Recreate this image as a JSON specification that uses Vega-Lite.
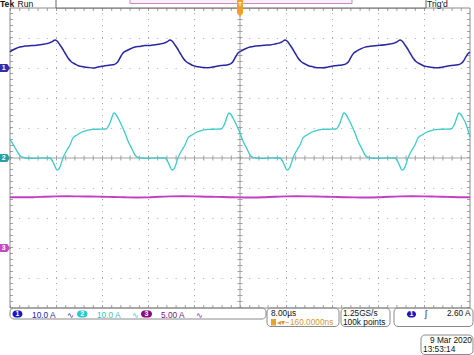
{
  "$schema": "https://vega.github.io/schema/vega-lite/v6.json",
  "width": 460,
  "height": 300,
  "autosize": {"type": "none"},
  "padding": {"left": 10, "top": 8, "right": 4, "bottom": 47},
  "background": "white",
  "config": {"view": {"stroke": null}, "text": {"font": "Liberation Sans"}},
  "resolve": {"scale": {"y": "independent", "color": "independent"}},
  "layer": [
    {
      "data": {"values": [{"t": -32}, {"t": -24}, {"t": -16}, {"t": -8}, {"t": 8}, {"t": 16}, {"t": 24}, {"t": 32}]},
      "mark": {"type": "rule", "color": "#a8a8a8", "strokeWidth": 1, "strokeDash": [1, 5], "xOffset": 0.5},
      "encoding": {
        "x": {"field": "t", "type": "quantitative", "scale": {"domain": [-40, 40], "nice": false, "zero": false}, "axis": null},
        "y": {"datum": -5, "type": "quantitative", "scale": {"domain": [-5, 5], "nice": false, "zero": false}, "axis": null},
        "y2": {"datum": 5}
      }
    },
    {
      "data": {"values": [{"v": -4}, {"v": -3}, {"v": -2}, {"v": -1}, {"v": 1}, {"v": 2}, {"v": 3}, {"v": 4}]},
      "mark": {"type": "rule", "color": "#a8a8a8", "strokeWidth": 1, "strokeDash": [1, 8.2], "yOffset": 0.5},
      "encoding": {
        "x": {"datum": -40, "type": "quantitative", "scale": {"domain": [-40, 40], "nice": false, "zero": false}, "axis": null},
        "x2": {"datum": 40},
        "y": {"field": "v", "type": "quantitative", "scale": {"domain": [-5, 5], "nice": false, "zero": false}, "axis": null}
      }
    },
    {
      "data": {"values": [{"t": -40, "t2": 40, "v": 0, "v2": 0}, {"t": 0, "t2": 0, "v": -5, "v2": 5}]},
      "mark": {"type": "rule", "color": "#a0a0a0", "strokeWidth": 1},
      "encoding": {
        "x": {"field": "t", "type": "quantitative", "scale": {"domain": [-40, 40], "nice": false, "zero": false}, "axis": null},
        "x2": {"field": "t2"},
        "y": {"field": "v", "type": "quantitative", "scale": {"domain": [-5, 5], "nice": false, "zero": false}, "axis": null},
        "y2": {"field": "v2"}
      }
    },
    {
      "data": {"values": [{"v": 0}]},
      "mark": {"type": "rule", "color": "#a0a0a0", "strokeWidth": 5, "strokeDash": [1, 8.2]},
      "encoding": {
        "x": {"datum": -40, "type": "quantitative", "scale": {"domain": [-40, 40], "nice": false, "zero": false}, "axis": null},
        "x2": {"datum": 40},
        "y": {"field": "v", "type": "quantitative", "scale": {"domain": [-5, 5], "nice": false, "zero": false}, "axis": null}
      }
    },
    {
      "data": {"values": [{"t": 0}]},
      "mark": {"type": "rule", "color": "#a0a0a0", "strokeWidth": 5, "strokeDash": [1, 5]},
      "encoding": {
        "x": {"field": "t", "type": "quantitative", "scale": {"domain": [-40, 40], "nice": false, "zero": false}, "axis": null},
        "y": {"datum": -5, "type": "quantitative", "scale": {"domain": [-5, 5], "nice": false, "zero": false}, "axis": null},
        "y2": {"datum": 5}
      }
    },
    {
      "data": {"values": [{"v": 4.95}, {"v": -4.95}]},
      "mark": {"type": "rule", "color": "#a0a0a0", "strokeWidth": 3, "strokeDash": [1, 8.2]},
      "encoding": {
        "x": {"datum": -40, "type": "quantitative", "scale": {"domain": [-40, 40], "nice": false, "zero": false}, "axis": null},
        "x2": {"datum": 40},
        "y": {"field": "v", "type": "quantitative", "scale": {"domain": [-5, 5], "nice": false, "zero": false}, "axis": null}
      }
    },
    {
      "data": {"values": [{"t": -39.74}, {"t": 39.74}]},
      "mark": {"type": "rule", "color": "#a0a0a0", "strokeWidth": 3, "strokeDash": [1, 5]},
      "encoding": {
        "x": {"field": "t", "type": "quantitative", "scale": {"domain": [-40, 40], "nice": false, "zero": false}, "axis": null},
        "y": {"datum": -5, "type": "quantitative", "scale": {"domain": [-5, 5], "nice": false, "zero": false}, "axis": null},
        "y2": {"datum": 5}
      }
    },
    {
      "data": {"values": [{"t": -40, "t2": 40, "v": -5, "v2": 5}]},
      "mark": {"type": "rect", "fillOpacity": 0, "stroke": "#8a8a8a", "strokeWidth": 1},
      "encoding": {
        "x": {"field": "t", "type": "quantitative", "scale": {"domain": [-40, 40], "nice": false, "zero": false}, "axis": null},
        "x2": {"field": "t2"},
        "y": {"field": "v", "type": "quantitative", "scale": {"domain": [-5, 5], "nice": false, "zero": false}, "axis": null},
        "y2": {"field": "v2"}
      }
    },
    {
      "data": {"values": [
        {"t": -40, "a": 8.45}, {"t": -38, "a": 8.45}, {"t": -36, "a": 8.47}, {"t": -34, "a": 8.55}, {"t": -32, "a": 8.6},
        {"t": -30, "a": 8.62}, {"t": -28, "a": 8.6}, {"t": -26, "a": 8.58}, {"t": -24, "a": 8.55}, {"t": -22, "a": 8.5},
        {"t": -20, "a": 8.45}, {"t": -18, "a": 8.42}, {"t": -16, "a": 8.44}, {"t": -14, "a": 8.55}, {"t": -12, "a": 8.6},
        {"t": -10, "a": 8.62}, {"t": -8, "a": 8.6}, {"t": -6, "a": 8.55}, {"t": -4, "a": 8.52}, {"t": -2, "a": 8.47},
        {"t": 0, "a": 8.43}, {"t": 2, "a": 8.42}, {"t": 4, "a": 8.45}, {"t": 6, "a": 8.55}, {"t": 8, "a": 8.6},
        {"t": 10, "a": 8.62}, {"t": 12, "a": 8.6}, {"t": 14, "a": 8.57}, {"t": 16, "a": 8.52}, {"t": 18, "a": 8.47},
        {"t": 20, "a": 8.43}, {"t": 22, "a": 8.42}, {"t": 24, "a": 8.45}, {"t": 26, "a": 8.55}, {"t": 28, "a": 8.6},
        {"t": 30, "a": 8.62}, {"t": 32, "a": 8.6}, {"t": 34, "a": 8.57}, {"t": 36, "a": 8.52}, {"t": 38, "a": 8.47},
        {"t": 40, "a": 8.45}
      ]},
      "mark": {"type": "line", "color": "#c23ec2", "strokeWidth": 1.9, "interpolate": "monotone"},
      "encoding": {
        "x": {"field": "t", "type": "quantitative", "scale": {"domain": [-40, 40], "nice": false, "zero": false}, "axis": null},
        "y": {"field": "a", "type": "quantitative", "scale": {"domain": [-10, 40], "nice": false, "zero": false}, "axis": null}
      }
    },
    {
      "data": {"values": [
        {"t": -40, "a": 6.2}, {"t": -39.48, "a": 4.6}, {"t": -38.79, "a": 2.3}, {"t": -38.26, "a": 0.8}, {"t": -37.74, "a": 0.17},
        {"t": -37.22, "a": 0}, {"t": -35.9, "a": -0.1}, {"t": -34.3, "a": 0.05},
        {"t": -33.05, "a": 0}, {"t": -32.53, "a": -1.33}, {"t": -32.18, "a": -2.8}, {"t": -31.83, "a": -4.0}, {"t": -31.57, "a": -3.8},
        {"t": -31.31, "a": -3.0}, {"t": -30.79, "a": 0}, {"t": -30.09, "a": 2.67}, {"t": -29.57, "a": 4.33}, {"t": -29.05, "a": 6.67},
        {"t": -28.35, "a": 7.67}, {"t": -27.48, "a": 8.67}, {"t": -26.44, "a": 9.33}, {"t": -25.57, "a": 9.57}, {"t": -24.18, "a": 9.6},
        {"t": -23.31, "a": 9.67}, {"t": -22.96, "a": 10.33}, {"t": -22.61, "a": 11.67}, {"t": -22.26, "a": 13.67}, {"t": -21.92, "a": 15.0},
        {"t": -21.57, "a": 14.5}, {"t": -21.22, "a": 13.33}, {"t": -20.7, "a": 11.33}, {"t": -20.0, "a": 8.33}, {"t": -19.48, "a": 5.67},
        {"t": -18.79, "a": 3.0}, {"t": -18.26, "a": 1.0}, {"t": -17.74, "a": 0.17}, {"t": -17.22, "a": 0}, {"t": -16.18, "a": -0.1},
        {"t": -14.44, "a": 0.07},
        {"t": -13.05, "a": 0}, {"t": -12.53, "a": -1.33}, {"t": -12.18, "a": -2.8}, {"t": -11.83, "a": -4.0}, {"t": -11.57, "a": -3.8},
        {"t": -11.31, "a": -3.0}, {"t": -10.79, "a": 0}, {"t": -10.09, "a": 2.67}, {"t": -9.57, "a": 4.33}, {"t": -9.05, "a": 6.67},
        {"t": -8.35, "a": 7.67}, {"t": -7.48, "a": 8.67}, {"t": -6.44, "a": 9.33}, {"t": -5.57, "a": 9.57}, {"t": -4.18, "a": 9.6},
        {"t": -3.31, "a": 9.67}, {"t": -2.96, "a": 10.33}, {"t": -2.61, "a": 11.67}, {"t": -2.26, "a": 13.67}, {"t": -1.92, "a": 15.0},
        {"t": -1.57, "a": 14.5}, {"t": -1.22, "a": 13.33}, {"t": -0.7, "a": 11.33}, {"t": 0.0, "a": 8.33}, {"t": 0.52, "a": 5.67},
        {"t": 1.21, "a": 3.0}, {"t": 1.74, "a": 1.0}, {"t": 2.26, "a": 0.17}, {"t": 2.78, "a": 0}, {"t": 3.82, "a": -0.1},
        {"t": 5.56, "a": 0.07},
        {"t": 6.95, "a": 0}, {"t": 7.47, "a": -1.33}, {"t": 7.82, "a": -2.8}, {"t": 8.17, "a": -4.0}, {"t": 8.43, "a": -3.8},
        {"t": 8.69, "a": -3.0}, {"t": 9.21, "a": 0}, {"t": 9.91, "a": 2.67}, {"t": 10.43, "a": 4.33}, {"t": 10.95, "a": 6.67},
        {"t": 11.65, "a": 7.67}, {"t": 12.52, "a": 8.67}, {"t": 13.56, "a": 9.33}, {"t": 14.43, "a": 9.57}, {"t": 15.82, "a": 9.6},
        {"t": 16.69, "a": 9.67}, {"t": 17.04, "a": 10.33}, {"t": 17.39, "a": 11.67}, {"t": 17.74, "a": 13.67}, {"t": 18.08, "a": 15.0},
        {"t": 18.43, "a": 14.5}, {"t": 18.78, "a": 13.33}, {"t": 19.3, "a": 11.33}, {"t": 20.0, "a": 8.33}, {"t": 20.52, "a": 5.67},
        {"t": 21.21, "a": 3.0}, {"t": 21.74, "a": 1.0}, {"t": 22.26, "a": 0.17}, {"t": 22.78, "a": 0}, {"t": 23.82, "a": -0.1},
        {"t": 25.56, "a": 0.07},
        {"t": 26.95, "a": 0}, {"t": 27.47, "a": -1.33}, {"t": 27.82, "a": -2.8}, {"t": 28.17, "a": -4.0}, {"t": 28.43, "a": -3.8},
        {"t": 28.69, "a": -3.0}, {"t": 29.21, "a": 0}, {"t": 29.91, "a": 2.67}, {"t": 30.43, "a": 4.33}, {"t": 30.95, "a": 6.67},
        {"t": 31.65, "a": 7.67}, {"t": 32.52, "a": 8.67}, {"t": 33.56, "a": 9.33}, {"t": 34.43, "a": 9.57}, {"t": 35.82, "a": 9.6},
        {"t": 36.69, "a": 9.67}, {"t": 37.04, "a": 10.33}, {"t": 37.39, "a": 11.67}, {"t": 37.74, "a": 13.67}, {"t": 38.08, "a": 15.0},
        {"t": 38.43, "a": 14.5}, {"t": 38.78, "a": 13.33}, {"t": 39.3, "a": 11.33}, {"t": 40.0, "a": 7.0}
      ]},
      "mark": {"type": "line", "color": "#3ccaca", "strokeWidth": 1.3, "interpolate": "monotone"},
      "encoding": {
        "x": {"field": "t", "type": "quantitative", "scale": {"domain": [-40, 40], "nice": false, "zero": false}, "axis": null},
        "y": {"field": "a", "type": "quantitative", "scale": {"domain": [-50, 50], "nice": false, "zero": false}, "axis": null}
      }
    },
    {
      "data": {"values": [
        {"t": -40, "a": 5.4}, {"t": -39.69, "a": 5.83}, {"t": -38.99, "a": 6.5}, {"t": -38.3, "a": 7.0}, {"t": -37.43, "a": 7.3},
        {"t": -36.56, "a": 7.45}, {"t": -35.69, "a": 7.5}, {"t": -34.82, "a": 7.75}, {"t": -33.95, "a": 8.0}, {"t": -33.25, "a": 8.3},
        {"t": -32.73, "a": 8.7},
        {"t": -32.17, "a": 9.33}, {"t": -31.82, "a": 9.0}, {"t": -31.3, "a": 7.67}, {"t": -30.95, "a": 6.67}, {"t": -30.43, "a": 5.0},
        {"t": -29.91, "a": 3.33}, {"t": -29.39, "a": 2.17}, {"t": -28.69, "a": 1.33}, {"t": -28.0, "a": 0.67}, {"t": -27.3, "a": 0.45},
        {"t": -26.43, "a": 0.2}, {"t": -25.56, "a": 0.0}, {"t": -24.69, "a": 0.3}, {"t": -23.82, "a": 0.6}, {"t": -22.78, "a": 0.95},
        {"t": -22.08, "a": 1.05}, {"t": -21.56, "a": 1.5}, {"t": -21.21, "a": 2.17}, {"t": -20.69, "a": 4.0}, {"t": -20.34, "a": 5.0},
        {"t": -19.65, "a": 5.83}, {"t": -18.95, "a": 6.5}, {"t": -18.26, "a": 7.0}, {"t": -17.39, "a": 7.2}, {"t": -16.52, "a": 7.5},
        {"t": -15.65, "a": 7.5}, {"t": -14.78, "a": 7.75}, {"t": -13.91, "a": 8.0}, {"t": -13.21, "a": 8.3}, {"t": -12.69, "a": 8.7},
        {"t": -12.17, "a": 9.33}, {"t": -11.82, "a": 9.0}, {"t": -11.3, "a": 7.67}, {"t": -10.95, "a": 6.67}, {"t": -10.43, "a": 5.0},
        {"t": -9.91, "a": 3.33}, {"t": -9.39, "a": 2.17}, {"t": -8.69, "a": 1.33}, {"t": -8.0, "a": 0.7}, {"t": -7.3, "a": 0.4},
        {"t": -6.43, "a": 0.15}, {"t": -5.56, "a": 0.1}, {"t": -4.69, "a": 0.3}, {"t": -3.82, "a": 0.7}, {"t": -2.78, "a": 0.9},
        {"t": -2.08, "a": 1.1}, {"t": -1.56, "a": 1.5}, {"t": -1.21, "a": 2.17}, {"t": -0.69, "a": 4.0}, {"t": -0.34, "a": 5.0},
        {"t": 0.35, "a": 5.8}, {"t": 1.05, "a": 6.5}, {"t": 1.74, "a": 7.0}, {"t": 2.61, "a": 7.3}, {"t": 3.48, "a": 7.45},
        {"t": 4.35, "a": 7.6}, {"t": 5.22, "a": 7.7}, {"t": 6.09, "a": 8.0}, {"t": 6.79, "a": 8.3}, {"t": 7.31, "a": 8.7},
        {"t": 7.83, "a": 9.33}, {"t": 8.18, "a": 9.0}, {"t": 8.7, "a": 7.67}, {"t": 9.05, "a": 6.67}, {"t": 9.57, "a": 5.0},
        {"t": 10.09, "a": 3.33}, {"t": 10.61, "a": 2.17}, {"t": 11.31, "a": 1.33}, {"t": 12.0, "a": 0.67}, {"t": 12.7, "a": 0.4},
        {"t": 13.57, "a": 0.1}, {"t": 14.44, "a": 0.1}, {"t": 15.31, "a": 0.3}, {"t": 16.18, "a": 0.65}, {"t": 17.22, "a": 0.9},
        {"t": 17.92, "a": 1.05}, {"t": 18.44, "a": 1.4}, {"t": 18.79, "a": 1.9}, {"t": 19.31, "a": 3.6}, {"t": 19.66, "a": 4.7},
        {"t": 20.35, "a": 5.7}, {"t": 21.05, "a": 6.4}, {"t": 21.74, "a": 6.95}, {"t": 22.61, "a": 7.25}, {"t": 23.48, "a": 7.45},
        {"t": 24.35, "a": 7.55}, {"t": 25.22, "a": 7.75}, {"t": 26.09, "a": 8.0}, {"t": 26.79, "a": 8.3}, {"t": 27.31, "a": 8.7},
        {"t": 27.83, "a": 9.33}, {"t": 28.18, "a": 9.0}, {"t": 28.7, "a": 7.67}, {"t": 29.05, "a": 6.67}, {"t": 29.57, "a": 5.0},
        {"t": 30.09, "a": 3.33}, {"t": 30.61, "a": 2.17}, {"t": 31.31, "a": 1.33}, {"t": 32.0, "a": 0.67}, {"t": 32.7, "a": 0.4},
        {"t": 33.57, "a": 0.15}, {"t": 34.44, "a": 0.05}, {"t": 35.31, "a": 0.3}, {"t": 36.18, "a": 0.65}, {"t": 37.22, "a": 0.95},
        {"t": 37.92, "a": 1.05}, {"t": 38.44, "a": 1.5}, {"t": 38.79, "a": 2.1}, {"t": 39.31, "a": 3.8}, {"t": 39.66, "a": 4.8},
        {"t": 40.0, "a": 5.3}
      ]},
      "mark": {"type": "line", "color": "#2727a6", "strokeWidth": 1.5, "interpolate": "monotone"},
      "encoding": {
        "x": {"field": "t", "type": "quantitative", "scale": {"domain": [-40, 40], "nice": false, "zero": false}, "axis": null},
        "y": {"field": "a", "type": "quantitative", "scale": {"domain": [-80, 20], "nice": false, "zero": false}, "axis": null}
      }
    },
    {
      "data": {"values": [{"ch": "1", "v": 3}, {"ch": "2", "v": 0}, {"ch": "3", "v": -3}]},
      "mark": {"type": "point", "filled": true, "opacity": 1, "size": 100, "shape": "M-1,-0.8L0.45,-0.8L1,0L0.45,0.8L-1,0.8Z"},
      "encoding": {
        "x": {"datum": -40.87, "type": "quantitative", "scale": {"domain": [-40, 40], "nice": false, "zero": false}, "axis": null},
        "y": {"field": "v", "type": "quantitative", "scale": {"domain": [-5, 5], "nice": false, "zero": false}, "axis": null},
        "color": {"field": "ch", "type": "nominal", "scale": {"domain": ["1", "2", "3"], "range": ["#3030a8", "#2aa0a4", "#c04cc0"]}, "legend": null}
      }
    },
    {
      "data": {"values": [{"ch": "1", "v": 3}, {"ch": "2", "v": 0}, {"ch": "3", "v": -3}]},
      "mark": {"type": "text", "color": "white", "fontSize": 7, "fontWeight": "bold", "align": "center", "baseline": "middle"},
      "encoding": {
        "x": {"datum": -41.1, "type": "quantitative", "scale": {"domain": [-40, 40], "nice": false, "zero": false}, "axis": null},
        "y": {"field": "v", "type": "quantitative", "scale": {"domain": [-5, 5], "nice": false, "zero": false}, "axis": null},
        "text": {"field": "ch"}
      }
    },
    {
      "data": {"values": [{"t": -32, "t2": 32.35, "v": 5, "v2": 5.3}]},
      "mark": {"type": "rect", "fill": "white", "stroke": "#666666", "strokeWidth": 1},
      "encoding": {
        "x": {"field": "t", "type": "quantitative", "scale": {"domain": [-40, 40], "nice": false, "zero": false}, "axis": null},
        "x2": {"field": "t2"},
        "y": {"field": "v", "type": "quantitative", "scale": {"domain": [-5, 5], "nice": false, "zero": false}, "axis": null},
        "y2": {"field": "v2"}
      }
    },
    {
      "data": {"values": [{"t": -19.13, "t2": 19.48, "v": 5.15, "v2": 5.29}]},
      "mark": {"type": "rect", "fill": "#fbf0f9", "stroke": "#c98cc2", "strokeWidth": 1},
      "encoding": {
        "x": {"field": "t", "type": "quantitative", "scale": {"domain": [-40, 40], "nice": false, "zero": false}, "axis": null},
        "x2": {"field": "t2"},
        "y": {"field": "v", "type": "quantitative", "scale": {"domain": [-5, 5], "nice": false, "zero": false}, "axis": null},
        "y2": {"field": "v2"}
      }
    },
    {
      "data": {"values": [{"t": 0, "v": 4.983}]},
      "mark": {"type": "point", "filled": true, "opacity": 1, "color": "#f0a02a", "size": 289, "shape": "M-0.35,-1L0.35,-1L0.35,0.5L0,1L-0.35,0.5Z"},
      "encoding": {
        "x": {"field": "t", "type": "quantitative", "scale": {"domain": [-40, 40], "nice": false, "zero": false}, "axis": null},
        "y": {"field": "v", "type": "quantitative", "scale": {"domain": [-5, 5], "nice": false, "zero": false}, "axis": null}
      }
    },
    {
      "data": {"values": [{"t": 0, "v": 5.06, "label": "T"}]},
      "mark": {"type": "text", "color": "white", "fontSize": 6, "fontWeight": "bold", "align": "center", "baseline": "alphabetic"},
      "encoding": {
        "x": {"field": "t", "type": "quantitative", "scale": {"domain": [-40, 40], "nice": false, "zero": false}, "axis": null},
        "y": {"field": "v", "type": "quantitative", "scale": {"domain": [-5, 5], "nice": false, "zero": false}, "axis": null},
        "text": {"field": "label"}
      }
    },
    {
      "data": {"values": [{"t": -41.74, "v": 5.267, "label": "Tek"}]},
      "mark": {"type": "text", "color": "#111111", "fontSize": 8.6, "fontWeight": "bold", "align": "left", "baseline": "top"},
      "encoding": {
        "x": {"field": "t", "type": "quantitative", "scale": {"domain": [-40, 40], "nice": false, "zero": false}, "axis": null},
        "y": {"field": "v", "type": "quantitative", "scale": {"domain": [-5, 5], "nice": false, "zero": false}, "axis": null},
        "text": {"field": "label"}
      }
    },
    {
      "data": {"values": [{"t": -38.7, "v": 5.267, "label": "Run"}, {"t": 32.52, "v": 5.267, "label": "Trig'd"}]},
      "mark": {"type": "text", "color": "#111111", "fontSize": 8.6, "align": "left", "baseline": "top"},
      "encoding": {
        "x": {"field": "t", "type": "quantitative", "scale": {"domain": [-40, 40], "nice": false, "zero": false}, "axis": null},
        "y": {"field": "v", "type": "quantitative", "scale": {"domain": [-5, 5], "nice": false, "zero": false}, "axis": null},
        "text": {"field": "label"}
      }
    },
    {
      "data": {"values": [
        {"t": -40, "t2": 4.52, "v": -5.0, "v2": -5.367},
        {"t": 4.7, "t2": 17.22, "v": -5.0, "v2": -5.617},
        {"t": 17.57, "t2": 26.09, "v": -5.0, "v2": -5.617},
        {"t": 26.78, "t2": 40.52, "v": -5.0, "v2": -5.617},
        {"t": 31.48, "t2": 40.52, "v": -5.9, "v2": -6.55}
      ]},
      "mark": {"type": "rect", "fillOpacity": 0, "stroke": "#8a8a8a", "strokeWidth": 1, "cornerRadius": 4},
      "encoding": {
        "x": {"field": "t", "type": "quantitative", "scale": {"domain": [-40, 40], "nice": false, "zero": false}, "axis": null},
        "x2": {"field": "t2"},
        "y": {"field": "v", "type": "quantitative", "scale": {"domain": [-5, 5], "nice": false, "zero": false}, "axis": null},
        "y2": {"field": "v2"}
      }
    },
    {
      "data": {"values": [
        {"t": -39.57, "t2": -37.83, "v": -5.083, "v2": -5.317, "ch": "1"},
        {"t": -28.35, "t2": -26.52, "v": -5.083, "v2": -5.317, "ch": "2"},
        {"t": -17.22, "t2": -15.3, "v": -5.083, "v2": -5.317, "ch": "3"},
        {"t": 29.04, "t2": 30.61, "v": -5.1, "v2": -5.317, "ch": "1"}
      ]},
      "mark": {"type": "rect", "cornerRadius": 3.5, "opacity": 1},
      "encoding": {
        "x": {"field": "t", "type": "quantitative", "scale": {"domain": [-40, 40], "nice": false, "zero": false}, "axis": null},
        "x2": {"field": "t2"},
        "y": {"field": "v", "type": "quantitative", "scale": {"domain": [-5, 5], "nice": false, "zero": false}, "axis": null},
        "y2": {"field": "v2"},
        "color": {"field": "ch", "type": "nominal", "scale": {"domain": ["1", "2", "3"], "range": ["#1818c0", "#2ec6d0", "#860a86"]}, "legend": null}
      }
    },
    {
      "data": {"values": [
        {"t": -38.7, "v": -5.2, "ch": "1"},
        {"t": -27.43, "v": -5.2, "ch": "2"},
        {"t": -16.26, "v": -5.2, "ch": "3"},
        {"t": 29.83, "v": -5.207, "ch": "1"}
      ]},
      "mark": {"type": "text", "color": "white", "fontSize": 7, "fontWeight": "bold", "align": "center", "baseline": "middle"},
      "encoding": {
        "x": {"field": "t", "type": "quantitative", "scale": {"domain": [-40, 40], "nice": false, "zero": false}, "axis": null},
        "y": {"field": "v", "type": "quantitative", "scale": {"domain": [-5, 5], "nice": false, "zero": false}, "axis": null},
        "text": {"field": "ch"}
      }
    },
    {
      "data": {"values": [
        {"t": -36.17, "v": -5.317, "label": "10.0 A", "ch": "1"},
        {"t": -30.09, "v": -5.317, "label": "∿", "ch": "1"},
        {"t": -24.87, "v": -5.317, "label": "10.0 A", "ch": "2"},
        {"t": -18.78, "v": -5.317, "label": "∿", "ch": "2"},
        {"t": -13.74, "v": -5.317, "label": "5.00 A", "ch": "3"},
        {"t": -7.65, "v": -5.317, "label": "∿", "ch": "3"}
      ]},
      "mark": {"type": "text", "fontSize": 8.3, "align": "left", "baseline": "alphabetic"},
      "encoding": {
        "x": {"field": "t", "type": "quantitative", "scale": {"domain": [-40, 40], "nice": false, "zero": false}, "axis": null},
        "y": {"field": "v", "type": "quantitative", "scale": {"domain": [-5, 5], "nice": false, "zero": false}, "axis": null},
        "text": {"field": "label"},
        "color": {"field": "ch", "type": "nominal", "scale": {"domain": ["1", "2", "3"], "range": ["#2626b0", "#36c2ca", "#7a167a"]}, "legend": null}
      }
    },
    {
      "data": {"values": [
        {"t": 5.39, "v": -5.283, "label": "8.00µs"},
        {"t": 17.91, "v": -5.283, "label": "1.25GS/s"},
        {"t": 17.91, "v": -5.583, "label": "100k points"},
        {"t": 32.17, "v": -5.3, "label": "ʃ"},
        {"t": 36.0, "v": -5.283, "label": "2.60 A"},
        {"t": 33.04, "v": -6.183, "label": "9 Mar 2020"},
        {"t": 31.83, "v": -6.483, "label": "13:53:14"}
      ]},
      "mark": {"type": "text", "color": "#111111", "fontSize": 8.3, "align": "left", "baseline": "alphabetic"},
      "encoding": {
        "x": {"field": "t", "type": "quantitative", "scale": {"domain": [-40, 40], "nice": false, "zero": false}, "axis": null},
        "y": {"field": "v", "type": "quantitative", "scale": {"domain": [-5, 5], "nice": false, "zero": false}, "axis": null},
        "text": {"field": "label"}
      }
    },
    {
      "data": {"values": [{"t": 5.39, "t2": 6.26, "v": -5.367, "v2": -5.583}]},
      "mark": {"type": "rect", "color": "#e8a030", "opacity": 1},
      "encoding": {
        "x": {"field": "t", "type": "quantitative", "scale": {"domain": [-40, 40], "nice": false, "zero": false}, "axis": null},
        "x2": {"field": "t2"},
        "y": {"field": "v", "type": "quantitative", "scale": {"domain": [-5, 5], "nice": false, "zero": false}, "axis": null},
        "y2": {"field": "v2"}
      }
    },
    {
      "data": {"values": [{"t": 6.45, "v": -5.583, "label": "◂▾−160.0000ns"}]},
      "mark": {"type": "text", "color": "#dc9530", "fontSize": 8.3, "align": "left", "baseline": "alphabetic"},
      "encoding": {
        "x": {"field": "t", "type": "quantitative", "scale": {"domain": [-40, 40], "nice": false, "zero": false}, "axis": null},
        "y": {"field": "v", "type": "quantitative", "scale": {"domain": [-5, 5], "nice": false, "zero": false}, "axis": null},
        "text": {"field": "label"}
      }
    }
  ]
}
